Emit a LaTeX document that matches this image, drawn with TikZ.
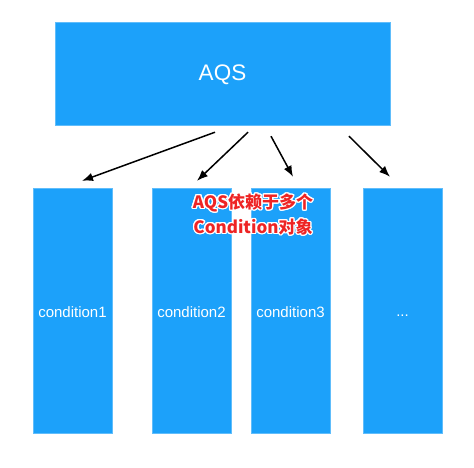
\documentclass[tikz,border=0pt]{standalone}
\usepackage{fontspec}
\setmainfont{Liberation Sans}
\newfontfamily\cjk{Noto Sans CJK SC}
\usepackage{contour}
\contourlength{1.3pt}
\usetikzlibrary{arrows.meta}
\definecolor{boxblue}{RGB}{28,161,250}
\definecolor{notered}{RGB}{238,36,36}
\tikzset{
  blk/.style={fill=boxblue, draw=boxblue!70!white, line width=.4pt, text=white, inner sep=0pt},
  cond/.style={blk, minimum width=79pt, minimum height=245pt, text height=15pt, font=\fontsize{15}{18}\selectfont},
  arr/.style={-{Latex[length=11pt,width=8.5pt]}, line width=1.5pt}
}
\begin{document}
\begin{tikzpicture}[x=1pt, y=-1pt]
\useasboundingbox (0,0) rectangle (474,467);
\node [blk, minimum width=335pt, minimum height=103pt, text height=19pt, font=\fontsize{22.5}{26}\selectfont] (aqs) at (222.5,73.5) {AQS};
\node [cond] (c1) at (72.5,310.5) {condition1};
\node [cond] (c2) at (191.5,310.5) {condition2};
\node [cond] (c3) at (290.5,310.5) {condition3};
\node [cond] (c4) at (402.5,310.5) {\raisebox{2pt}{...}};
\draw [arr] ([xshift=-7.5pt,yshift=-7pt]aqs.south) -- ([xshift=9.5pt,yshift=7pt]c1.north);
\draw [arr] ([xshift=25.5pt,yshift=-7pt]aqs.south) -- ([xshift=5.5pt,yshift=7pt]c2.north);
\draw [arr] ([xshift=48.5pt,yshift=-11pt]aqs.south) -- ([xshift=2.5pt,yshift=11pt]c3.north);
\draw [arr] ([xshift=126.5pt,yshift=-11pt]aqs.south) -- ([xshift=-12.5pt,yshift=11pt]c4.north);
% note over the boxes
\node [text=notered, align=center, font=\cjk\bfseries\fontsize{17}{25}\selectfont] (note) at (253,215)
  {\contour{white}{AQS依赖于多个}\\\contour{white}{Condition对象}};
\end{tikzpicture}
\end{document}
